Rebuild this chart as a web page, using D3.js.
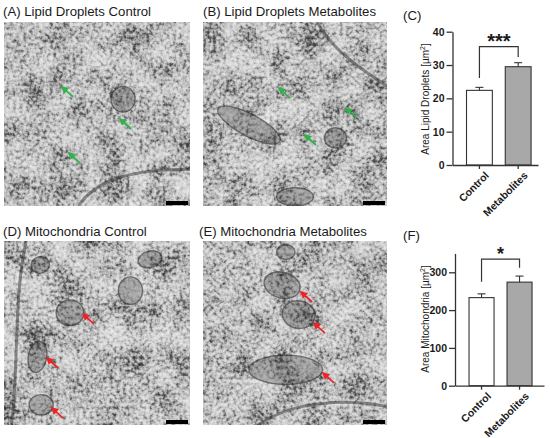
<!DOCTYPE html>
<html>
<head>
<meta charset="utf-8">
<script src="https://cdn.jsdelivr.net/npm/d3@7/dist/d3.min.js"></script>
<style>
  html, body { margin: 0; padding: 0; background: #ffffff; }
  svg { display: block; font-family: "Liberation Sans", Arial, sans-serif; }
</style>
</head>
<body>
<svg id="fig" width="550" height="438"></svg>
<script>
// ---------------- DATA ----------------
const categories = ["Control", "Metabolites"];
const lipidMeans = [22.4, 29.5];
const lipidErrors = [0.9, 1.2];
const lipidTicks = [0, 10, 20, 30, 40];
const lipidBracket = [26.1, 35.5, 32.4];   // left end, top, right end (value units)
const lipidStars = "***";

const mitoMeans = [233, 274];
const mitoErrors = [10, 16];
const mitoTicks = [0, 100, 200, 300];
const mitoBracket = [275, 335, 312];
const mitoStars = "*";

const barFills = ["#ffffff", "#a8a8a8"];

const panelTitles = ["(A) Lipid Droplets Control", "(B) Lipid Droplets Metabolites",
                     "(D) Mitochondria Control", "(E) Mitochondria Metabolites"];
// arrow heads as fractions of each micrograph (x, y)
const arrowsA = [[0.312, 0.353], [0.624, 0.527], [0.349, 0.712]];
const arrowsB = [[0.413, 0.359], [0.777, 0.467], [0.554, 0.614]];
const arrowsD = [[0.425, 0.397], [0.231, 0.636], [0.258, 0.908]];
const arrowsE = [[0.533, 0.277], [0.603, 0.446], [0.652, 0.717]];
// organelles (decorative) as fractions: cx, cy, rx, ry, angle
const organellesA = [[0.64, 0.42, 0.065, 0.07, 0]];
const organellesB = [[0.25, 0.56, 0.19, 0.06, 28], [0.72, 0.63, 0.06, 0.055, 0], [0.5, 0.95, 0.1, 0.05, 0]];
const organellesD = [[0.195, 0.13, 0.05, 0.045, -20], [0.355, 0.39, 0.075, 0.07, 0], [0.18, 0.63, 0.05, 0.085, 10],
                     [0.2, 0.89, 0.065, 0.055, 0], [0.68, 0.27, 0.065, 0.075, 0], [0.785, 0.1, 0.065, 0.045, -15]];
const organellesE = [[0.43, 0.24, 0.1, 0.07, 15], [0.52, 0.4, 0.09, 0.075, 10], [0.45, 0.7, 0.2, 0.08, 0], [0.45, 0.06, 0.05, 0.04, 0]];
const arrowColors = ["#2fb24a", "#2fb24a", "#ec2328", "#ec2328"];

// ---------------- LAYOUT ----------------
const svg = d3.select("#fig");
const defs = svg.append("defs");

const panelBoxes = [
  {x: 4, y: 22, w: 186, h: 184, seed: 3},
  {x: 203, y: 22, w: 184, h: 184, seed: 11},
  {x: 4, y: 241, w: 186, h: 184, seed: 23},
  {x: 203, y: 241, w: 184, h: 184, seed: 37}
];
const titlePos = [[3, 16], [203, 16], [3, 236], [199, 236]];
const arrowSets = [arrowsA, arrowsB, arrowsD, arrowsE];
const organelleSets = [organellesA, organellesB, organellesD, organellesE];

// EM-like texture filter
panelBoxes.forEach((p, i) => {
  const f = defs.append("filter").attr("id", "em" + i)
    .attr("x", 0).attr("y", 0).attr("width", 1).attr("height", 1)
    .attr("color-interpolation-filters", "sRGB");
  f.append("feTurbulence").attr("type", "fractalNoise").attr("baseFrequency", 0.3)
    .attr("numOctaves", 2).attr("seed", p.seed).attr("result", "t1");
  f.append("feColorMatrix").attr("in", "t1").attr("type", "matrix")
    .attr("values", "1 0 0 0 0  1 0 0 0 0  1 0 0 0 0  0 0 0 0 1").attr("result", "fine");
  f.append("feTurbulence").attr("type", "fractalNoise").attr("baseFrequency", 0.04)
    .attr("numOctaves", 3).attr("seed", p.seed + 5).attr("result", "t2");
  f.append("feColorMatrix").attr("in", "t2").attr("type", "matrix")
    .attr("values", "1 0 0 0 0  1 0 0 0 0  1 0 0 0 0  0 0 0 0 1").attr("result", "coarse");
  f.append("feComposite").attr("in", "fine").attr("in2", "coarse").attr("operator", "arithmetic")
    .attr("k1", 0).attr("k2", 1.0).attr("k3", 0.7).attr("k4", -0.35).attr("result", "mix");
  f.append("feGaussianBlur").attr("in", "mix").attr("stdDeviation", 0.4).attr("result", "soft");
  const ct = f.append("feComponentTransfer").attr("in", "soft");
  ["feFuncR", "feFuncG", "feFuncB"].forEach(fn => {
    ct.append(fn).attr("type", "table").attr("tableValues", "0.22 0.3 0.42 0.58 0.7 0.78 0.84 0.87 0.9 0.92");
  });
  defs.append("clipPath").attr("id", "clip" + i)
    .append("rect").attr("x", p.x).attr("y", p.y).attr("width", p.w).attr("height", p.h);
});

// arrow markers
["g", "r"].forEach((k, i) => {
  defs.append("marker").attr("id", "ah" + k).attr("viewBox", "0 0 10 10")
    .attr("refX", 8).attr("refY", 5).attr("markerWidth", 4.2).attr("markerHeight", 4.2)
    .attr("orient", "auto")
    .append("path").attr("d", "M0,0 L10,5 L0,10 z").attr("fill", i === 0 ? "#2fb24a" : "#ec2328");
});

panelBoxes.forEach((p, i) => {
  const sx = d3.scaleLinear().domain([0, 1]).range([p.x, p.x + p.w]);
  const sy = d3.scaleLinear().domain([0, 1]).range([p.y, p.y + p.h]);
  const g = svg.append("g").attr("clip-path", `url(#clip${i})`);
  g.append("rect").attr("x", p.x).attr("y", p.y).attr("width", p.w).attr("height", p.h)
    .attr("fill", "#bbb").attr("filter", `url(#em${i})`);
  organelleSets[i].forEach(o => {
    g.append("ellipse")
      .attr("transform", `translate(${sx(o[0])},${sy(o[1])}) rotate(${o[4]})`)
      .attr("rx", o[2] * p.w).attr("ry", o[3] * p.h)
      .attr("fill", "#3a3a3a").attr("fill-opacity", 0.3)
      .attr("stroke", "#2a2a2a").attr("stroke-opacity", 0.55).attr("stroke-width", 1.4);
  });
  const mem = [
    "M0.4,1.0 C0.5,0.85 0.7,0.8 1.0,0.8",
    "M0.62,0 C0.7,0.15 0.85,0.25 1.0,0.35",
    "M0.12,0 C0.05,0.3 0.08,0.7 0.04,1.0",
    "M0.3,1.0 C0.5,0.86 0.8,0.86 1.0,0.9"
  ][i];
  const pathStr = mem.replace(/([\d.]+),([\d.]+)/g, (m, a, b) => `${sx(+a)},${sy(+b)}`);
  g.append("path").attr("d", pathStr).attr("fill", "none")
    .attr("stroke", "#2f2f2f").attr("stroke-opacity", 0.5).attr("stroke-width", 3);
  g.append("rect").attr("x", sx(1) - 24).attr("y", sy(1) - 5).attr("width", 22).attr("height", 4).attr("fill", "#000");
  const col = arrowColors[i];
  arrowSets[i].forEach(a => {
    const hx = sx(a[0]), hy = sy(a[1]);
    svg.append("line").attr("x1", hx + 11).attr("y1", hy + 10).attr("x2", hx).attr("y2", hy)
      .attr("stroke", col).attr("stroke-width", 1.8)
      .attr("marker-end", `url(#ah${i < 2 ? "g" : "r"})`);
  });
  svg.append("text").attr("x", titlePos[i][0]).attr("y", titlePos[i][1])
    .attr("font-size", 13.2).attr("fill", "#1a1a1a").text(panelTitles[i]);
});

// ---------------- BAR CHARTS ----------------
function barChart(cfg) {
  const g = svg.append("g");
  const y = d3.scaleLinear().domain(cfg.domain).range(cfg.yRange);
  const x = d3.scaleBand().domain(categories).range(cfg.xRange)
    .paddingInner(cfg.pi).paddingOuter(cfg.po).align(cfg.align);

  g.selectAll("rect.bar").data(cfg.means).join("rect").attr("class", "bar")
    .attr("x", (d, i) => x(categories[i])).attr("width", x.bandwidth())
    .attr("y", d => y(d)).attr("height", d => y(0) - y(d))
    .attr("fill", (d, i) => barFills[i]).attr("stroke", "#333").attr("stroke-width", 1.1);
  cfg.means.forEach((m, i) => {
    const cx = x(categories[i]) + x.bandwidth() / 2;
    g.append("line").attr("x1", cx).attr("x2", cx).attr("y1", y(m)).attr("y2", y(m + cfg.errs[i]))
      .attr("stroke", "#333").attr("stroke-width", 1.1);
    g.append("line").attr("x1", cx - 4).attr("x2", cx + 4).attr("y1", y(m + cfg.errs[i])).attr("y2", y(m + cfg.errs[i]))
      .attr("stroke", "#333").attr("stroke-width", 1.1);
  });
  const ya = g.append("g").attr("transform", `translate(${cfg.xRange[0]},0)`)
    .call(d3.axisLeft(y).tickValues(cfg.ticks).tickSize(6).tickSizeOuter(0).tickPadding(2));
  const xa = g.append("g").attr("transform", `translate(0,${y(0)})`)
    .call(d3.axisBottom(x).tickSize(4).tickSizeOuter(0).tickPadding(3));
  [ya, xa].forEach(a => {
    a.selectAll("path,line").attr("stroke", "#333").attr("stroke-width", 1.3);
    a.selectAll("text").attr("font-family", "'Liberation Sans', Arial, sans-serif")
      .attr("font-weight", "bold").attr("font-size", 10.5).attr("fill", "#1a1a1a");
  });
  xa.selectAll("text").attr("text-anchor", "end").attr("dy", "0.3em")
    .attr("transform", "translate(3,4) rotate(-45)");
  const lx = x(categories[0]) + x.bandwidth() / 2, rx = x(categories[1]) + x.bandwidth() / 2;
  g.append("path")
    .attr("d", `M${lx},${y(cfg.bracket[0])} V${y(cfg.bracket[1])} H${rx} V${y(cfg.bracket[2])}`)
    .attr("fill", "none").attr("stroke", "#333").attr("stroke-width", 1.2);
  g.append("text").attr("x", (lx + rx) / 2).attr("y", y(cfg.bracket[1]) + cfg.starDy)
    .attr("text-anchor", "middle").attr("font-weight", "bold").attr("font-size", cfg.starSize)
    .attr("fill", "#1a1a1a").text(cfg.stars);
  const lab = g.append("text")
    .attr("transform", `translate(${cfg.labelX},${cfg.labelY}) rotate(-90)`)
    .attr("text-anchor", "middle").attr("font-size", 10).attr("fill", "#1a1a1a");
  lab.append("tspan").text(cfg.label + " [µm");
  lab.append("tspan").attr("font-size", 7).attr("dy", -4).text("2");
  lab.append("tspan").attr("dy", 4).text("]");
  svg.append("text").attr("x", 403).attr("y", cfg.letterY).attr("font-size", 13.2)
    .attr("fill", "#1a1a1a").text(cfg.letter);
}

barChart({
  domain: [0, 40], yRange: [165, 31.7], xRange: [452.5, 538],
  pi: 1 / 3, po: 0.27, align: 0.67,
  means: lipidMeans, errs: lipidErrors, ticks: lipidTicks,
  bracket: lipidBracket, stars: lipidStars, starSize: 20, starDy: 1,
  label: "Area Lipid Droplets", labelX: 428.5, labelY: 99, letter: "(C)", letterY: 20
});
barChart({
  domain: [0, 350], yRange: [385.7, 253.4], xRange: [455, 544],
  pi: 0.342, po: 0.342, align: 0.54,
  means: mitoMeans, errs: mitoErrors, ticks: mitoTicks,
  bracket: mitoBracket, stars: mitoStars, starSize: 18, starDy: 1,
  label: "Area Mitochondria", labelX: 428.5, labelY: 319, letter: "(F)", letterY: 240
});
</script>
</body>
</html>
